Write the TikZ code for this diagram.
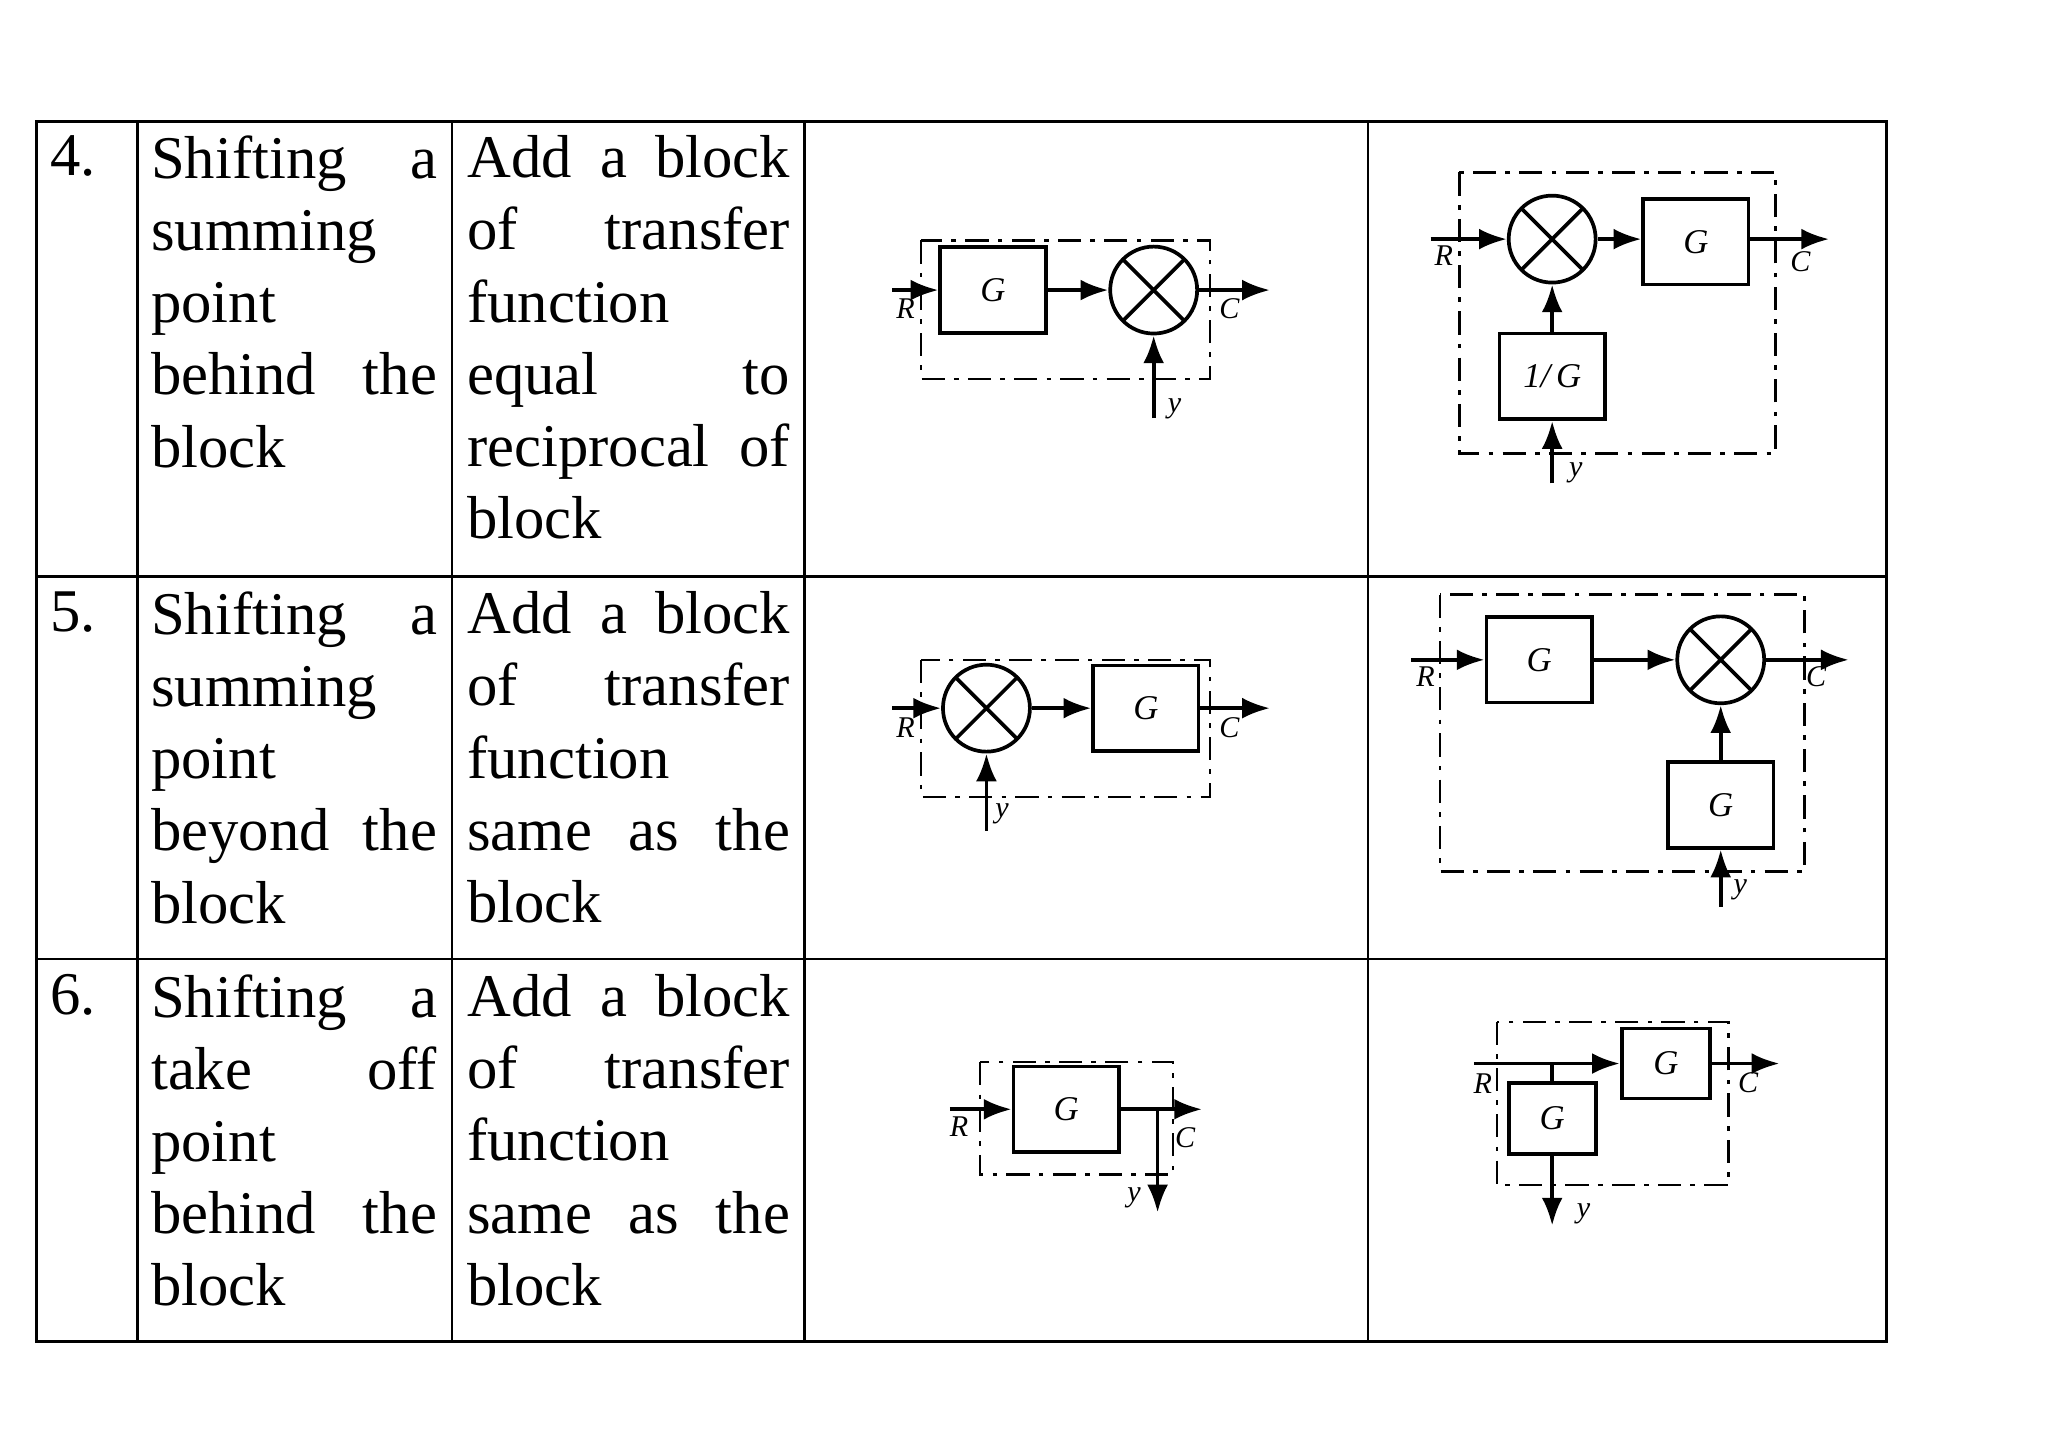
\documentclass[tikz,border=0pt]{standalone}
\usepackage{fontspec}
\setmainfont{Liberation Serif}
\usetikzlibrary{arrows.meta}
\tikzstyle{blk} = [draw, line width=0.8pt, minimum width=0.8cm, minimum height=0.65cm, inner sep=0pt, font=\fontsize{7.5}{9}\selectfont\itshape]
\tikzstyle{sump} = [draw, circle, line width=0.8pt, minimum size=0.66cm, inner sep=0pt, path picture={\draw[line width=0.8pt] (path picture bounding box.north west)--(path picture bounding box.south east) (path picture bounding box.north east)--(path picture bounding box.south west);}]
\tikzstyle{sig} = [line width=0.8pt, -{Latex[length=6pt,width=4.5pt]}]
\tikzstyle{lbl} = [font=\fontsize{6.5}{8}\selectfont\itshape, inner sep=0pt]
\tikzstyle{frame} = [line width=0.5pt, dash pattern=on 5pt off 2pt on 1pt off 2pt]
\tikzstyle{cell} = [anchor=north west, inner sep=0pt, align=left, font=\fontsize{13.1}{15.6}\selectfont]
\newcommand{\jl}[2]{\makebox[#1][s]{#2}}
\begin{document}
\begin{tikzpicture}[x=0.00992cm,y=-0.00992cm]
\useasboundingbox (0,0) rectangle (1567.5,1109);
% table
\draw[line width=0.6pt] (28,93) rectangle (1444,1027);
\foreach \x in {105,346,616,1047} \draw[line width=0.6pt] (\x,93) -- (\x,1027);
\foreach \y in {441,734} \draw[line width=0.6pt] (28,\y) -- (1444,\y);
% text
\foreach \n/\y in {4/103,5/452,6/745} \node[cell] (num\n) at (38,\y) {\n.};
\node[cell] (op4) at (115,103) {\jl{2.17cm}{Shifting a}\\summing\\point\\\jl{2.17cm}{behind the}\\block};
\node[cell] (rule4) at (357,103) {\jl{2.45cm}{Add a block}\\\jl{2.45cm}{of transfer}\\function\\\jl{2.45cm}{equal to}\\\jl{2.45cm}{reciprocal of}\\block};
\node[cell] (op5) at (115,452) {\jl{2.17cm}{Shifting a}\\summing\\point\\\jl{2.17cm}{beyond the}\\block};
\node[cell] (rule5) at (357,452) {\jl{2.45cm}{Add a block}\\\jl{2.45cm}{of transfer}\\function\\\jl{2.45cm}{same as the}\\block};
\node[cell] (op6) at (115,745) {\jl{2.17cm}{Shifting a}\\\jl{2.17cm}{take off}\\point\\\jl{2.17cm}{behind the}\\block};
\node[cell] (rule6) at (357,745) {\jl{2.45cm}{Add a block}\\\jl{2.45cm}{of transfer}\\function\\\jl{2.45cm}{same as the}\\block};

% row 4, before
\draw[frame] (705,184) rectangle (926,290);
\node[blk] (g4a) at (760,222) {G};
\node[sump] (s4a) at (883,222) {};
\coordinate (r4a) at (683,222);
\coordinate (c4a) at (972,222);
\coordinate (y4a) at (883,320);
\draw[sig] (r4a) -- (g4a);
\draw[sig] (g4a) -- (s4a);
\draw[sig] (s4a) -- (c4a);
\draw[sig] (y4a) -- (s4a);
\node[lbl] at (693,236) {R};
\node[lbl] at (941,236) {C};
\node[lbl] at (899,313) {y};
% row 4, after
\draw[frame] (1117,132) rectangle (1359,347);
\node[sump] (s4b) at (1188,183) {};
\node[blk] (g4b) at (1298,185) {G};
\node[blk] (h4b) at (1188,288) {1/\,G};
\coordinate (r4b) at (1095,183);
\coordinate (c4b) at (1400,183);
\coordinate (y4b) at (1188,370);
\draw[sig] (r4b) -- (s4b);
\draw[sig] (s4b) -- (g4b.west |- s4b);
\draw[sig] (g4b.east |- c4b) -- (c4b);
\draw[sig] (h4b) -- (s4b);
\draw[sig] (y4b) -- (h4b);
\node[lbl] at (1105,196) {R};
\node[lbl] at (1378,200) {C};
\node[lbl] at (1206,362) {y};

% row 5, before
\draw[frame] (705,505) rectangle (926,610);
\node[sump] (s5a) at (755,542) {};
\node[blk] (g5a) at (877,542) {G};
\coordinate (r5a) at (683,542);
\coordinate (c5a) at (972,542);
\coordinate (y5a) at (755,636);
\draw[sig] (r5a) -- (s5a);
\draw[sig] (s5a) -- (g5a);
\draw[sig] (g5a) -- (c5a);
\draw[sig] (y5a) -- (s5a);
\node[lbl] at (693,557) {R};
\node[lbl] at (941,557) {C};
\node[lbl] at (767,623) {y};
% row 5, after
\draw[frame] (1102,455) rectangle (1381,667);
\node[blk] (g5b) at (1178,505) {G};
\node[sump] (s5b) at (1317,505) {};
\node[blk] (h5b) at (1317,616) {G};
\coordinate (r5b) at (1080,505);
\coordinate (c5b) at (1415,505);
\coordinate (y5b) at (1317,694);
\draw[sig] (r5b) -- (g5b);
\draw[sig] (g5b) -- (s5b);
\draw[sig] (s5b) -- (c5b);
\draw[sig] (h5b) -- (s5b);
\draw[sig] (y5b) -- (h5b);
\node[lbl] at (1091,518) {R};
\node[lbl] at (1390,518) {C};
\node[lbl] at (1332,681) {y};

% row 6, before
\draw[frame] (750,813) rectangle (898,899);
\node[blk] (g6a) at (816,849) {G};
\coordinate (r6a) at (727,849);
\coordinate (c6a) at (920,849);
\coordinate (t6a) at (886,849);
\coordinate (y6a) at (886,928);
\draw[sig] (r6a) -- (g6a);
\draw[sig] (g6a) -- (c6a);
\draw[sig] (t6a) -- (y6a);
\node[lbl] at (734,862) {R};
\node[lbl] at (907,871) {C};
\node[lbl] at (868,917) {y};
% row 6, after
\draw[frame] (1146,782) rectangle (1323,907);
\node[blk, minimum width=0.67cm, minimum height=0.53cm] (g6b) at (1275,814) {G};
\node[blk, minimum width=0.66cm, minimum height=0.54cm] (h6b) at (1188,856) {G};
\coordinate (r6b) at (1128,814);
\coordinate (c6b) at (1362,814);
\coordinate (t6b) at (1188,814);
\coordinate (y6b) at (1188,938);
\draw[sig] (r6b) -- (g6b);
\draw[sig] (g6b) -- (c6b);
\draw[line width=0.8pt] (t6b) -- (h6b);
\draw[sig] (h6b) -- (y6b);
\node[lbl] at (1135,829) {R};
\node[lbl] at (1338,829) {C};
\node[lbl] at (1212,929) {y};
\end{tikzpicture}
\end{document}
